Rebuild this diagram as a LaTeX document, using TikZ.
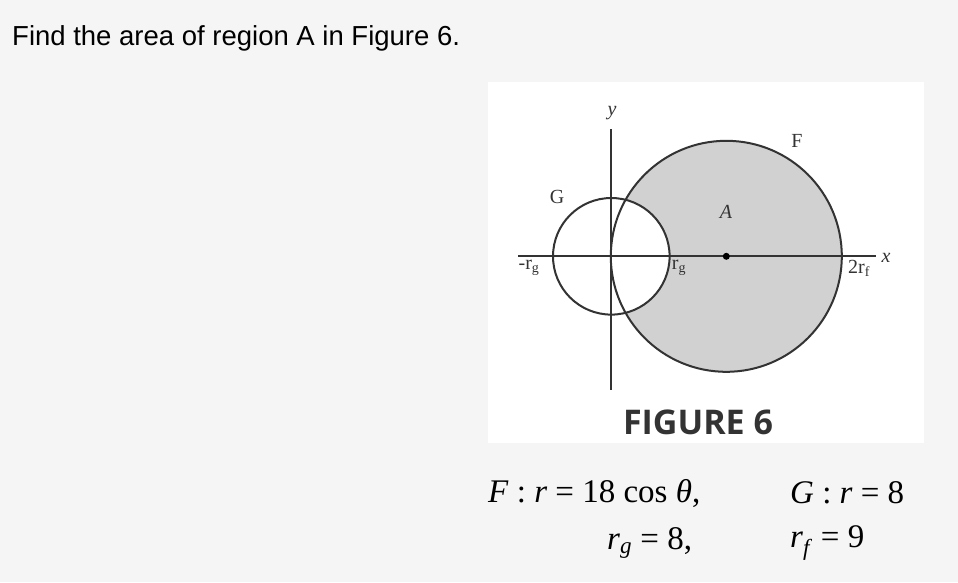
\documentclass[tikz,border=0pt]{standalone}
\usepackage{fontspec}
\setsansfont{Liberation Sans}
\setmainfont{Liberation Serif}
\newfontfamily\figfont{Open Sans}
\newcommand{\ieq}{\hspace{0.25em}=\hspace{0.25em}}
\begin{document}
\begin{tikzpicture}[x=1pt,y=-1pt,
  curve/.style={draw=black!80,line width=2pt},
  axis/.style={draw=black!80,line width=1.8pt},
  lbl/.style={font=\fontsize{20}{20}\selectfont\rmfamily,text=black!80,inner sep=0pt},
  eq/.style={anchor=west,font=\rmfamily\fontsize{33}{40}\selectfont,inner sep=0pt}]
\useasboundingbox[fill=black!4] (0,0) rectangle (958,582);
\fill[white] (488,82) rectangle (924,443);
\node[anchor=west,font=\sffamily\fontsize{27.5}{32}\selectfont,inner sep=0pt] (title) at (12,38) {Find the area of region A in Figure 6.};
\coordinate (O) at (611.3,256.3);
\coordinate (C) at (726.3,256.3);
\fill[black!18] (C) circle (115.5);
\fill[white] (O) circle (58.3);
\draw[curve] (C) circle (115.5);
\draw[curve] (O) circle (58.3);
\coordinate (xl) at (518,256.3); \coordinate (xr) at (876,256.3);
\coordinate (yt) at (611.3,129); \coordinate (yb) at (611.3,390);
\draw[axis] (xl) -- (xr);
\draw[axis] (yt) -- (yb);
\fill (C) circle (3.5);
\node[lbl,font=\fontsize{20}{20}\selectfont\itshape] (ly) at (612,113) {y};
\node[lbl,font=\fontsize{20}{20}\selectfont\itshape] (lx) at (886,258) {x};
\node[lbl] (lF) at (797,141) {F};
\node[lbl] (lG) at (557,197) {G};
\node[lbl,font=\fontsize{20}{20}\selectfont\itshape] (lA) at (726,212) {A};
\node[lbl] (lmrg) at (529,268) {-r\textsubscript{g}};
\node[lbl] (lrg) at (679,268) {r\textsubscript{g}};
\node[lbl] (l2rf) at (859,268) {2r\textsubscript{f}};
\node[font=\figfont\bfseries\fontsize{34}{34}\selectfont,text=black!80] (cap) at (698,422) {FIGURE 6};
\node[eq] (eqF) at (488,493) {\textit{F} : \textit{r}\ieq 18 cos \textit{θ},};
\node[eq] (eqG) at (790,493) {\textit{G} : \textit{r}\ieq 8};
\node[eq] (eqrg) at (607,543) {\textit{r}\textsubscript{\textit{g}}\ieq 8,};
\node[eq] (eqrf) at (790,543) {\textit{r}\textsubscript{\textit{f}}\ieq 9};
\end{tikzpicture}
\end{document}
